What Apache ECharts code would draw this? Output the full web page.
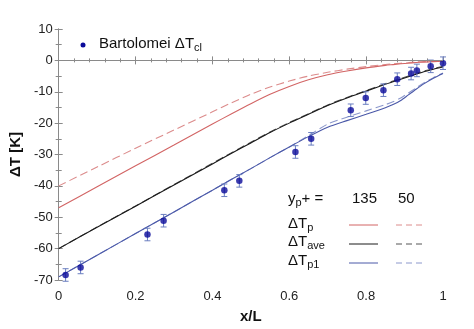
<!DOCTYPE html>
<html><head><meta charset="utf-8">
<script src="https://cdn.jsdelivr.net/npm/echarts@6/dist/echarts.min.js"></script>
<style>html,body{margin:0;padding:0;background:#fff}#c{width:474px;height:329px}</style>
</head><body><div id="c"></div>
<script>
// Experimental data (Bartolomei ΔT_cl)
var expX = [0.018, 0.057, 0.231, 0.273, 0.431, 0.47, 0.616, 0.657, 0.76, 0.799, 0.845, 0.881, 0.917, 0.932, 0.968, 1.0];
var expY = [-68.4, -66.0, -55.5, -51.1, -41.4, -38.4, -29.2, -25.0, -15.9, -12.0, -9.5, -6.0, -4.2, -3.2, -1.9, -0.9];
var expErr = [2, 2, 2, 2, 2, 2, 2, 2, 2, 2, 2, 2, 2, 2, 2, 2];

// model curves, x positions
var xc = [0, 0.1, 0.2, 0.3, 0.4, 0.45, 0.5, 0.55, 0.6, 0.65, 0.7, 0.75, 0.8, 0.85, 0.87, 0.89, 0.91, 0.93, 0.95, 0.975, 1.0];
var tp135  = [-47, -40.3, -33.6, -27, -20.3, -17, -13.8, -10.8, -8.3, -6.2, -4.6, -3.4, -2.4, -1.6, -1.35, -1.1, -0.9, -0.7, -0.55, -0.4, -0.3];
var tp50   = [-40, -34, -28, -22.2, -16.4, -13.5, -10.8, -8.5, -6.6, -5.0, -3.8, -2.8, -2.0, -1.3, -1.1, -0.9, -0.7, -0.5, -0.35, -0.25, -0.15];
var tave135 = [-60, -53.2, -46.5, -39.7, -33, -29.6, -26.3, -23, -20, -17.2, -14.4, -12, -9.8, -7.6, -6.8, -6.0, -5.2, -4.4, -3.6, -2.8, -2.1];
var tave50  = [-60, -53.1, -46.4, -39.6, -32.8, -29.4, -26.1, -22.8, -19.8, -17.0, -14.2, -11.8, -9.6, -7.4, -6.6, -5.8, -5.0, -4.2, -3.4, -2.6, -1.9];
var tp1135 = [-69, -62.1, -55.2, -48.3, -41.4, -37.9, -34.5, -31, -27.6, -24.3, -21.3, -19.2, -17.2, -15.1, -14.1, -12.8, -11.0, -9.2, -7.5, -5.7, -4.2];
var tp150  = [-69, -62.1, -55.2, -48.3, -41.4, -37.9, -34.5, -31, -27.6, -24.0, -20.3, -18.1, -16.1, -14.1, -13.2, -12.0, -10.4, -8.8, -7.2, -5.5, -4.0];

var xTicks = [0, 0.2, 0.4, 0.6, 0.8, 1];
var yTicks = [-70, -60, -50, -40, -30, -20, -10, 0, 10];

function pairs(xs, ys){ return xs.map(function(x,i){return [x, ys[i]];}); }

var chart = echarts.init(document.getElementById('c'));
var axisCol = '#8a8a8a';
var labelFont = {color:'#222', fontSize:13, fontFamily:'Arial, Liberation Sans, sans-serif'};
function mkLine(name, data, color, dashed){
  return {type:'line', name:name, data:data, showSymbol:false, smooth:0.25,
    lineStyle:{color:color, width:1.1, type: dashed ? [8,4] : 'solid'}, z:2, animation:false};
}
chart.setOption({
  animation:false,
  grid:{left:58, right:31, top:29, bottom:45},
  xAxis:[{type:'value', min:0, max:1, interval:0.2,
    axisLine:{lineStyle:{color:axisCol}}, axisTick:{inside:true, length:4, lineStyle:{color:axisCol}},
    minorTick:{show:true, splitNumber:5, length:2, lineStyle:{color:axisCol}},
    splitLine:{show:false},
    axisLabel:Object.assign({margin:10, formatter:function(v){return xTicks.indexOf(+v.toFixed(1))>=0 ? String(+v.toFixed(1)) : '';}}, labelFont),
    name:'x/L', nameLocation:'middle', nameGap:29, nameTextStyle:{fontSize:15, fontWeight:'bold', color:'#111', fontFamily:'Arial, Liberation Sans, sans-serif'}},
   {type:'value', min:0, max:1, interval:0.2, position:'top',
    axisLine:{lineStyle:{color:axisCol}}, axisTick:{inside:true, length:4, lineStyle:{color:axisCol}},
    minorTick:{show:true, splitNumber:5, length:2, lineStyle:{color:axisCol}},
    splitLine:{show:false}, axisLabel:{show:false}}],
  yAxis:[{type:'value', min:-70, max:10, interval:10,
    axisLine:{show:true, lineStyle:{color:axisCol}}, axisTick:{show:true, inside:true, length:4, lineStyle:{color:axisCol}},
    minorTick:{show:true, splitNumber:2, length:3, lineStyle:{color:axisCol}},
    splitLine:{show:false},
    axisLabel:Object.assign({margin:6}, labelFont),
    name:'\u0394T [K]', nameLocation:'middle', nameGap:30, nameRotate:90,
    nameTextStyle:{fontSize:15, fontWeight:'bold', color:'#111', fontFamily:'Arial, Liberation Sans, sans-serif'}},
   {type:'value', min:-70, max:10, interval:10, position:'right',
    axisLine:{show:true, lineStyle:{color:axisCol}}, axisTick:{show:true, inside:true, length:4, lineStyle:{color:axisCol}},
    minorTick:{show:true, splitNumber:2, length:3, lineStyle:{color:axisCol}},
    splitLine:{show:false}, axisLabel:{show:false}}],
  series:[
    mkLine('tp50', pairs(xc, tp50), '#dc8c8c', true),
    mkLine('tp135', pairs(xc, tp135), '#d26464', false),
    mkLine('tave50', pairs(xc, tave50), '#555', true),
    mkLine('tave135', pairs(xc, tave135), '#1a1a1a', false),
    mkLine('tp150', pairs(xc, tp150), '#8c98cc', true),
    mkLine('tp1135', pairs(xc, tp1135), '#4a58a8', false),
    {type:'line', data:[], markLine:{silent:true, symbol:'none', label:{show:false},
      lineStyle:{color:'#8a8a8a', width:1, type:'solid'}, data:[{yAxis:0}]}},
    {type:'custom', name:'err', z:3,
      data: expX.map(function(x,i){return [x, expY[i]-expErr[i], expY[i]+expErr[i]];}),
      renderItem:function(params, api){
        var lo = api.coord([api.value(0), api.value(1)]);
        var hi = api.coord([api.value(0), api.value(2)]);
        var st = {stroke:'#6a7ec0', lineWidth:1};
        return {type:'group', children:[
          {type:'line', shape:{x1:lo[0], y1:lo[1], x2:hi[0], y2:hi[1]}, style:st},
          {type:'line', shape:{x1:lo[0]-3, y1:lo[1], x2:lo[0]+3, y2:lo[1]}, style:st},
          {type:'line', shape:{x1:hi[0]-3, y1:hi[1], x2:hi[0]+3, y2:hi[1]}, style:st}
        ]};
      }},
    {type:'scatter', name:'Bartolomei', data:pairs(expX, expY), symbol:'circle', symbolSize:6.5,
      itemStyle:{color:'#0a0a9a'}, z:4}
  ],
  graphic:[
    {type:'circle', shape:{cx:83, cy:45, r:2.5}, style:{fill:'#0a0a9a'}},
    {type:'text', left:99, top:36, style:{
      text:'Bartolomei \u0394T{s|cl}', font:'15px Arial, Liberation Sans, sans-serif', fill:'#111',
      rich:{s:{fontSize:11, verticalAlign:'bottom', padding:[8,0,0,0], fontFamily:'Arial, Liberation Sans'}}}},
    {type:'text', left:288, top:191, style:{text:'y{s|p}+ =', font:'15px Arial, Liberation Sans, sans-serif', fill:'#111',
      rich:{s:{fontSize:11, padding:[8,0,0,0], fontFamily:'Arial, Liberation Sans'}}}},
    {type:'text', left:352, top:191, style:{text:'135', font:'15px Arial, Liberation Sans, sans-serif', fill:'#111'}},
    {type:'text', left:398, top:191, style:{text:'50', font:'15px Arial, Liberation Sans, sans-serif', fill:'#111'}},
    {type:'text', left:288, top:216, style:{text:'\u0394T{s|p}', font:'15px Arial, Liberation Sans, sans-serif', fill:'#111',
      rich:{s:{fontSize:11, padding:[8,0,0,0], fontFamily:'Arial, Liberation Sans'}}}},
    {type:'text', left:288, top:234, style:{text:'\u0394T{s|ave}', font:'15px Arial, Liberation Sans, sans-serif', fill:'#111',
      rich:{s:{fontSize:11, padding:[8,0,0,0], fontFamily:'Arial, Liberation Sans'}}}},
    {type:'text', left:288, top:253, style:{text:'\u0394T{s|p1}', font:'15px Arial, Liberation Sans, sans-serif', fill:'#111',
      rich:{s:{fontSize:11, padding:[8,0,0,0], fontFamily:'Arial, Liberation Sans'}}}},
    {type:'line', shape:{x1:349, y1:225, x2:378, y2:225}, style:{stroke:'#d26464', lineWidth:1}},
    {type:'line', shape:{x1:396, y1:225, x2:426, y2:225}, style:{stroke:'#dc8c8c', lineWidth:1, lineDash:[6,4]}},
    {type:'line', shape:{x1:349, y1:244, x2:378, y2:244}, style:{stroke:'#1a1a1a', lineWidth:1}},
    {type:'line', shape:{x1:396, y1:244, x2:426, y2:244}, style:{stroke:'#555', lineWidth:1, lineDash:[6,4]}},
    {type:'line', shape:{x1:349, y1:263, x2:378, y2:263}, style:{stroke:'#4a58a8', lineWidth:1}},
    {type:'line', shape:{x1:396, y1:263, x2:426, y2:263}, style:{stroke:'#8c98cc', lineWidth:1, lineDash:[6,4]}}
  ]
});
</script></body></html>
